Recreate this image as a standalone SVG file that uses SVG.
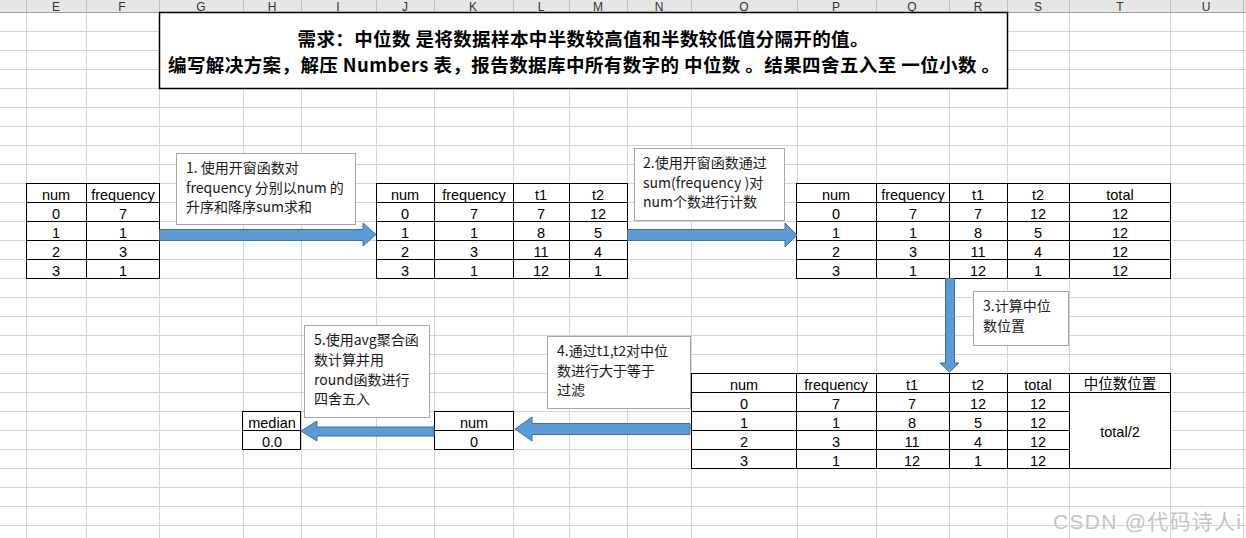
<svg xmlns="http://www.w3.org/2000/svg" width="1246" height="538" viewBox="0 0 1246 538">
<style>
.grid line{stroke:#d4d4d4;stroke-width:1}
.hdr{font-family:"Liberation Sans",Arial,sans-serif;font-size:12px;fill:#333;text-anchor:middle}
.cell{fill:#fff;stroke:#000;stroke-width:1}
.ln{stroke:#000;stroke-width:1}
.t{font-family:"Liberation Sans","Noto Sans CJK SC",sans-serif;font-size:14.5px;fill:#000;text-anchor:middle}
.tc{font-family:"Noto Sans CJK SC",sans-serif;font-size:14.5px;fill:#000;text-anchor:middle}
.box{fill:#fff;stroke:#a6a6a6;stroke-width:1}
.note{font-family:"Noto Sans CJK SC",sans-serif;font-size:14px;fill:#1a1a1a}
.title{font-family:"Noto Sans CJK SC",sans-serif;font-size:18.5px;font-weight:700;fill:#000;text-anchor:middle}
.arrow{fill:#5b9bd5;stroke:#41719c;stroke-width:1}
</style>
<rect x="0" y="0" width="1246" height="538" fill="#fff"/>
<g id="grid" class="grid">
<line x1="0" y1="31.5" x2="1246" y2="31.5"/><line x1="0" y1="50.5" x2="1246" y2="50.5"/><line x1="0" y1="69.5" x2="1246" y2="69.5"/><line x1="0" y1="88.5" x2="1246" y2="88.5"/><line x1="0" y1="107.5" x2="1246" y2="107.5"/><line x1="0" y1="126.5" x2="1246" y2="126.5"/><line x1="0" y1="145.5" x2="1246" y2="145.5"/><line x1="0" y1="164.5" x2="1246" y2="164.5"/><line x1="0" y1="183.5" x2="1246" y2="183.5"/><line x1="0" y1="202.5" x2="1246" y2="202.5"/><line x1="0" y1="221.5" x2="1246" y2="221.5"/><line x1="0" y1="240.5" x2="1246" y2="240.5"/><line x1="0" y1="259.5" x2="1246" y2="259.5"/><line x1="0" y1="278.5" x2="1246" y2="278.5"/><line x1="0" y1="297.5" x2="1246" y2="297.5"/><line x1="0" y1="316.5" x2="1246" y2="316.5"/><line x1="0" y1="335.5" x2="1246" y2="335.5"/><line x1="0" y1="354.5" x2="1246" y2="354.5"/><line x1="0" y1="373.5" x2="1246" y2="373.5"/><line x1="0" y1="392.5" x2="1246" y2="392.5"/><line x1="0" y1="411.5" x2="1246" y2="411.5"/><line x1="0" y1="430.5" x2="1246" y2="430.5"/><line x1="0" y1="449.5" x2="1246" y2="449.5"/><line x1="0" y1="468.5" x2="1246" y2="468.5"/><line x1="0" y1="487.5" x2="1246" y2="487.5"/><line x1="0" y1="506.5" x2="1246" y2="506.5"/><line x1="0" y1="525.5" x2="1246" y2="525.5"/>
<line x1="26.5" y1="12" x2="26.5" y2="538"/><line x1="86.5" y1="12" x2="86.5" y2="538"/><line x1="159.5" y1="12" x2="159.5" y2="538"/><line x1="243.5" y1="12" x2="243.5" y2="538"/><line x1="301.5" y1="12" x2="301.5" y2="538"/><line x1="376.5" y1="12" x2="376.5" y2="538"/><line x1="434.5" y1="12" x2="434.5" y2="538"/><line x1="513.5" y1="12" x2="513.5" y2="538"/><line x1="569.5" y1="12" x2="569.5" y2="538"/><line x1="627.5" y1="12" x2="627.5" y2="538"/><line x1="691.5" y1="12" x2="691.5" y2="538"/><line x1="797.5" y1="12" x2="797.5" y2="538"/><line x1="876.5" y1="12" x2="876.5" y2="538"/><line x1="949.5" y1="12" x2="949.5" y2="538"/><line x1="1007.5" y1="12" x2="1007.5" y2="538"/><line x1="1069.5" y1="12" x2="1069.5" y2="538"/><line x1="1170.5" y1="12" x2="1170.5" y2="538"/><line x1="1243.5" y1="12" x2="1243.5" y2="538"/>
</g>
<g id="column-header">
<rect x="0" y="0" width="1246" height="12" fill="#e6e6e6"/>
<g stroke="#c0c0c0" stroke-width="1">
<line x1="26.5" y1="0" x2="26.5" y2="12"/><line x1="86.5" y1="0" x2="86.5" y2="12"/><line x1="159.5" y1="0" x2="159.5" y2="12"/><line x1="243.5" y1="0" x2="243.5" y2="12"/><line x1="301.5" y1="0" x2="301.5" y2="12"/><line x1="376.5" y1="0" x2="376.5" y2="12"/><line x1="434.5" y1="0" x2="434.5" y2="12"/><line x1="513.5" y1="0" x2="513.5" y2="12"/><line x1="569.5" y1="0" x2="569.5" y2="12"/><line x1="627.5" y1="0" x2="627.5" y2="12"/><line x1="691.5" y1="0" x2="691.5" y2="12"/><line x1="797.5" y1="0" x2="797.5" y2="12"/><line x1="876.5" y1="0" x2="876.5" y2="12"/><line x1="949.5" y1="0" x2="949.5" y2="12"/><line x1="1007.5" y1="0" x2="1007.5" y2="12"/><line x1="1069.5" y1="0" x2="1069.5" y2="12"/><line x1="1170.5" y1="0" x2="1170.5" y2="12"/><line x1="1243.5" y1="0" x2="1243.5" y2="12"/>
</g>
<line x1="0" y1="12.5" x2="1246" y2="12.5" stroke="#a0a0a0" stroke-width="1"/>
<text class="hdr" x="56" y="11">E</text><text class="hdr" x="122" y="11">F</text><text class="hdr" x="201" y="11">G</text><text class="hdr" x="272" y="11">H</text><text class="hdr" x="338" y="11">I</text><text class="hdr" x="405" y="11">J</text><text class="hdr" x="473" y="11">K</text><text class="hdr" x="541" y="11">L</text><text class="hdr" x="598" y="11">M</text><text class="hdr" x="659" y="11">N</text><text class="hdr" x="744" y="11">O</text><text class="hdr" x="836" y="11">P</text><text class="hdr" x="912" y="11">Q</text><text class="hdr" x="978" y="11">R</text><text class="hdr" x="1038" y="11">S</text><text class="hdr" x="1120" y="11">T</text><text class="hdr" x="1206" y="11">U</text>
</g>
<g id="title">
<rect x="159.5" y="12.5" width="848" height="76" fill="#fff" stroke="#000" stroke-width="1.5"/>
<text class="title" x="583" y="46" textLength="571">需求：中位数 是将数据样本中半数较高值和半数较低值分隔开的值。</text>
<text class="title" x="584" y="72" textLength="832">编写解决方案，解压 Numbers 表，报告数据库中所有数字的 中位数 。结果四舍五入至 一位小数 。</text>
</g>
<g id="table1">
<rect class="cell" x="26.5" y="183.5" width="133" height="95"/>
<g class="ln"><line x1="86.5" y1="183.5" x2="86.5" y2="278.5"/><line x1="26.5" y1="202.5" x2="159.5" y2="202.5"/><line x1="26.5" y1="221.5" x2="159.5" y2="221.5"/><line x1="26.5" y1="240.5" x2="159.5" y2="240.5"/><line x1="26.5" y1="259.5" x2="159.5" y2="259.5"/></g>
<text class="t" x="56" y="200">num</text><text class="t" x="123" y="200">frequency</text>
<text class="t" x="56" y="219">0</text><text class="t" x="123" y="219">7</text>
<text class="t" x="56" y="238">1</text><text class="t" x="123" y="238">1</text>
<text class="t" x="56" y="257">2</text><text class="t" x="123" y="257">3</text>
<text class="t" x="56" y="276">3</text><text class="t" x="123" y="276">1</text>
</g>
<g id="table2">
<rect class="cell" x="376.5" y="183.5" width="251" height="95"/>
<g class="ln"><line x1="434.5" y1="183.5" x2="434.5" y2="278.5"/><line x1="513.5" y1="183.5" x2="513.5" y2="278.5"/><line x1="569.5" y1="183.5" x2="569.5" y2="278.5"/><line x1="376.5" y1="202.5" x2="627.5" y2="202.5"/><line x1="376.5" y1="221.5" x2="627.5" y2="221.5"/><line x1="376.5" y1="240.5" x2="627.5" y2="240.5"/><line x1="376.5" y1="259.5" x2="627.5" y2="259.5"/></g>
<text class="t" x="405" y="200">num</text><text class="t" x="474" y="200">frequency</text><text class="t" x="541" y="200">t1</text><text class="t" x="598" y="200">t2</text>
<text class="t" x="405" y="219">0</text><text class="t" x="474" y="219">7</text><text class="t" x="541" y="219">7</text><text class="t" x="598" y="219">12</text>
<text class="t" x="405" y="238">1</text><text class="t" x="474" y="238">1</text><text class="t" x="541" y="238">8</text><text class="t" x="598" y="238">5</text>
<text class="t" x="405" y="257">2</text><text class="t" x="474" y="257">3</text><text class="t" x="541" y="257">11</text><text class="t" x="598" y="257">4</text>
<text class="t" x="405" y="276">3</text><text class="t" x="474" y="276">1</text><text class="t" x="541" y="276">12</text><text class="t" x="598" y="276">1</text>
</g>
<g id="table3">
<rect class="cell" x="796.5" y="183.5" width="374" height="95"/>
<g class="ln"><line x1="876.5" y1="183.5" x2="876.5" y2="278.5"/><line x1="949.5" y1="183.5" x2="949.5" y2="278.5"/><line x1="1007.5" y1="183.5" x2="1007.5" y2="278.5"/><line x1="1069.5" y1="183.5" x2="1069.5" y2="278.5"/><line x1="796.5" y1="202.5" x2="1170.5" y2="202.5"/><line x1="796.5" y1="221.5" x2="1170.5" y2="221.5"/><line x1="796.5" y1="240.5" x2="1170.5" y2="240.5"/><line x1="796.5" y1="259.5" x2="1170.5" y2="259.5"/></g>
<text class="t" x="836" y="200">num</text><text class="t" x="913" y="200">frequency</text><text class="t" x="978" y="200">t1</text><text class="t" x="1038" y="200">t2</text><text class="t" x="1120" y="200">total</text>
<text class="t" x="836" y="219">0</text><text class="t" x="913" y="219">7</text><text class="t" x="978" y="219">7</text><text class="t" x="1038" y="219">12</text><text class="t" x="1120" y="219">12</text>
<text class="t" x="836" y="238">1</text><text class="t" x="913" y="238">1</text><text class="t" x="978" y="238">8</text><text class="t" x="1038" y="238">5</text><text class="t" x="1120" y="238">12</text>
<text class="t" x="836" y="257">2</text><text class="t" x="913" y="257">3</text><text class="t" x="978" y="257">11</text><text class="t" x="1038" y="257">4</text><text class="t" x="1120" y="257">12</text>
<text class="t" x="836" y="276">3</text><text class="t" x="913" y="276">1</text><text class="t" x="978" y="276">12</text><text class="t" x="1038" y="276">1</text><text class="t" x="1120" y="276">12</text>
</g>
<g id="table4">
<rect class="cell" x="691.5" y="373.5" width="479" height="95"/>
<g class="ln"><line x1="796.5" y1="373.5" x2="796.5" y2="468.5"/><line x1="876.5" y1="373.5" x2="876.5" y2="468.5"/><line x1="949.5" y1="373.5" x2="949.5" y2="468.5"/><line x1="1007.5" y1="373.5" x2="1007.5" y2="468.5"/><line x1="1069.5" y1="373.5" x2="1069.5" y2="468.5"/><line x1="691.5" y1="392.5" x2="1170.5" y2="392.5"/><line x1="691.5" y1="411.5" x2="1069.5" y2="411.5"/><line x1="691.5" y1="430.5" x2="1069.5" y2="430.5"/><line x1="691.5" y1="449.5" x2="1069.5" y2="449.5"/></g>
<text class="t" x="744" y="390">num</text><text class="t" x="836" y="390">frequency</text><text class="t" x="912" y="390">t1</text><text class="t" x="978" y="390">t2</text><text class="t" x="1038" y="390">total</text><text class="tc" x="1120" y="389">中位数位置</text>
<text class="t" x="744" y="409">0</text><text class="t" x="836" y="409">7</text><text class="t" x="912" y="409">7</text><text class="t" x="978" y="409">12</text><text class="t" x="1038" y="409">12</text>
<text class="t" x="744" y="428">1</text><text class="t" x="836" y="428">1</text><text class="t" x="912" y="428">8</text><text class="t" x="978" y="428">5</text><text class="t" x="1038" y="428">12</text>
<text class="t" x="744" y="447">2</text><text class="t" x="836" y="447">3</text><text class="t" x="912" y="447">11</text><text class="t" x="978" y="447">4</text><text class="t" x="1038" y="447">12</text>
<text class="t" x="744" y="466">3</text><text class="t" x="836" y="466">1</text><text class="t" x="912" y="466">12</text><text class="t" x="978" y="466">1</text><text class="t" x="1038" y="466">12</text>
<text class="t" x="1120" y="437">total/2</text>
</g>
<g id="table5">
<rect class="cell" x="434.5" y="411.5" width="79" height="38"/>
<line class="ln" x1="434.5" y1="430.5" x2="513.5" y2="430.5"/>
<text class="t" x="474" y="428">num</text><text class="t" x="474" y="447">0</text>
</g>
<g id="table6">
<rect class="cell" x="242.5" y="411.5" width="58" height="38"/>
<line class="ln" x1="242.5" y1="430.5" x2="300.5" y2="430.5"/>
<text class="t" x="272" y="428">median</text><text class="t" x="272" y="447">0.0</text>
</g>
<g id="connectors">
<path class="arrow" d="M159.5,229.5 H363 V223 L376,234.5 L363,246 V240.5 H159.5 Z"/>
<path class="arrow" d="M627.5,229.5 H785 V223 L797,235 L785,247 V240.5 H627.5 Z"/>
<path class="arrow" d="M945.5,278.5 V363 H940 L949.5,372 L959,363 H954.5 V278.5 Z"/>
<path class="arrow" d="M690,423.5 H532 V417 L515,429 L532,441 V434.5 H690 Z"/>
<path class="arrow" d="M434,427 H317 V421 L301,431 L317,441 V436 H434 Z"/>
</g>
<g id="note1">
<rect class="box" x="176.5" y="153.5" width="179" height="71"/>
<text class="note" x="186" y="173">1. 使用开窗函数对</text>
<text class="note" x="186" y="193">frequency 分别以num 的</text>
<text class="note" x="186" y="212">升序和降序sum求和</text>
</g>
<g id="note2">
<rect class="box" x="634.5" y="148.5" width="150" height="72"/>
<text class="note" x="643" y="168">2.使用开窗函数通过</text>
<text class="note" x="643" y="188">sum(frequency )对</text>
<text class="note" x="643" y="207">num个数进行计数</text>
</g>
<g id="note3">
<rect class="box" x="973.5" y="291.5" width="95" height="54"/>
<text class="note" x="983" y="311">3.计算中位</text>
<text class="note" x="983" y="331">数位置</text>
</g>
<g id="note4">
<rect class="box" x="547.5" y="336.5" width="143" height="72"/>
<text class="note" x="557" y="356">4.通过t1,t2对中位</text>
<text class="note" x="557" y="376">数进行大于等于</text>
<text class="note" x="557" y="395">过滤</text>
</g>
<g id="note5">
<rect class="box" x="304.5" y="325.5" width="125" height="92"/>
<text class="note" x="314" y="345">5.使用avg聚合函</text>
<text class="note" x="314" y="365">数计算并用</text>
<text class="note" x="314" y="385">round函数进行</text>
<text class="note" x="314" y="404">四舍五入</text>
</g>
<g id="watermark">
<text x="1053" y="529" textLength="188" style="font-family:'Liberation Sans','Noto Sans CJK SC',sans-serif;font-size:21px;fill:#c4c4c4;stroke:#fff;stroke-width:0.6;paint-order:stroke">CSDN @代码诗人i</text>
</g>
</svg>
